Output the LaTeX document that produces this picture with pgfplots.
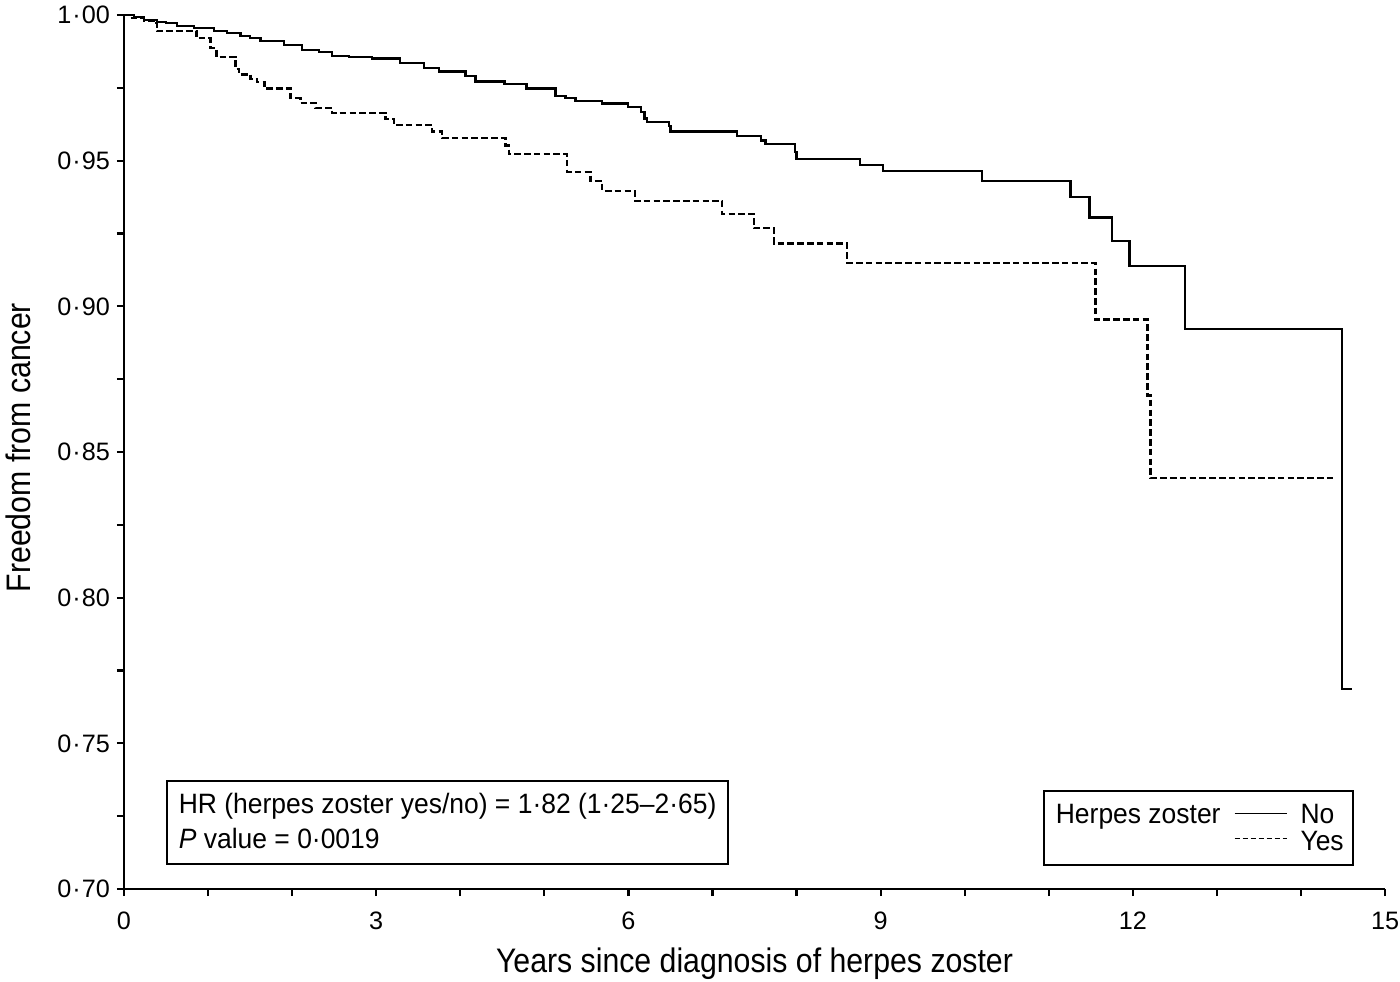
\documentclass[border=0pt]{standalone}
\usepackage{fontspec}
\setmainfont{Liberation Sans}[FakeStretch=0.945]
\newfontfamily\labelfont{Liberation Sans}[FakeStretch=0.89]
\newfontfamily\tickfont{Liberation Sans}
\usepackage{pgfplots}
\pgfplotsset{compat=1.18}
\newcommand{\md}{\kern.04em·\kern.04em}
\pgfplotstableread{
t s
0.000 1.0000
0.120 0.9992
0.236 0.9984
0.395 0.9977
0.500 0.9972
0.632 0.9963
0.831 0.9954
1.069 0.9946
1.227 0.9938
1.386 0.9927
1.500 0.9920
1.624 0.9910
1.901 0.9896
2.119 0.9881
2.318 0.9872
2.476 0.9860
2.674 0.9855
2.952 0.9851
3.281 0.9835
3.566 0.9817
3.745 0.9806
4.062 0.9790
4.181 0.9772
4.526 0.9763
4.788 0.9748
5.133 0.9723
5.252 0.9715
5.371 0.9705
5.688 0.9696
5.997 0.9683
6.152 0.9666
6.191 0.9645
6.223 0.9632
6.481 0.9620
6.501 0.9600
7.294 0.9586
7.579 0.9569
7.631 0.9556
7.979 0.9530
7.999 0.9506
8.753 0.9485
9.030 0.9464
10.208 0.9430
11.259 0.9375
11.485 0.9305
11.750 0.9225
11.960 0.9139
12.618 0.8922
14.490 0.7687
14.610 0.7687
}\nodata
\pgfplotstableread{
t s
0.000 1.0000
0.077 0.9989
0.236 0.9981
0.355 0.9973
0.395 0.9944
0.862 0.9920
1.029 0.9886
1.100 0.9857
1.326 0.9815
1.366 0.9796
1.505 0.9780
1.584 0.9769
1.671 0.9748
1.981 0.9714
2.099 0.9698
2.278 0.9681
2.476 0.9664
3.110 0.9643
3.210 0.9622
3.666 0.9600
3.785 0.9578
4.538 0.9552
4.577 0.9523
5.271 0.9462
5.549 0.9430
5.688 0.9397
6.076 0.9362
7.115 0.9317
7.492 0.9268
7.730 0.9216
8.602 0.9149
11.556 0.8955
12.175 0.8694
12.210 0.8410
14.410 0.8410
}\yesdata
\begin{document}
\begin{tikzpicture}
\useasboundingbox (-62pt,-46pt) rectangle (638pt,444.5pt);
\begin{axis}[
  at={(0,0)}, anchor=south west,
  scale only axis, width=630.5pt, height=437pt,
  xmin=0, xmax=15, ymin=0.70, ymax=1.00,
  axis x line*=bottom, axis y line*=left,
  axis line style={line width=1.2pt, black},
  xtick={0,3,6,9,12,15}, xticklabels={0,3,6,9,12,15},
  minor xtick={1,2,4,5,7,8,10,11,13,14},
  ytick={0.70,0.75,0.80,0.85,0.90,0.95,1.00},
  yticklabels={0\md70,0\md75,0\md80,0\md85,0\md90,0\md95,1\md00},
  minor ytick={0.725,0.775,0.825,0.875,0.925,0.975},
  tick align=outside, major tick length=3.5pt, minor tick length=3.5pt,
  every tick/.style={black, line width=1.1pt},
  tick label style={font=\tickfont\fontsize{12.6}{14}\selectfont},
  xticklabel style={yshift=-4.5pt},
  xlabel={Years since diagnosis of herpes zoster},
  ylabel={Freedom from cancer},
  xlabel style={at={(axis description cs:0.5,-0.095)}, anchor=base, font=\labelfont\fontsize{17}{19}\selectfont},
  ylabel style={at={(axis description cs:-0.0745,0.505)}, anchor=base, font=\labelfont\fontsize{17}{19}\selectfont},
  clip=false,
]
\addplot[const plot, black, line width=1.1pt] table[x=t,y=s] {\nodata};
\addplot[const plot, black, line width=1.1pt, dash pattern=on 3.3pt off 1.6pt] table[x=t,y=s] {\yesdata};

\draw[line width=1pt] (axis cs:0.506,0.7086) rectangle (axis cs:7.19,0.7371);
\node[anchor=base west, inner sep=0, font=\fontsize{14}{16}\selectfont] at (axis cs:0.648,0.7258) {HR (herpes zoster yes/no) = 1·82 (1·25–2·65)};
\node[anchor=base west, inner sep=0, font=\fontsize{14}{16}\selectfont] at (axis cs:0.648,0.7138) {\textit{P} value = 0·0019};

\draw[line width=1pt] (axis cs:10.94,0.7083) rectangle (axis cs:14.62,0.7337);
\node[anchor=base west, inner sep=0, font=\fontsize{14}{16}\selectfont] at (axis cs:11.08,0.7224) {Herpes zoster};
\draw[line width=0.5pt] (axis cs:13.21,0.7258) -- (axis cs:13.83,0.7258);
\draw[line width=0.5pt, dash pattern=on 2.5pt off 1.5pt] (axis cs:13.21,0.7172) -- (axis cs:13.83,0.7172);
\node[anchor=base west, inner sep=0, font=\fontsize{14}{16}\selectfont] at (axis cs:13.99,0.7224) {No};
\node[anchor=base west, inner sep=0, font=\fontsize{14}{16}\selectfont] at (axis cs:13.99,0.7131) {Yes};
\end{axis}
\end{tikzpicture}
\end{document}
